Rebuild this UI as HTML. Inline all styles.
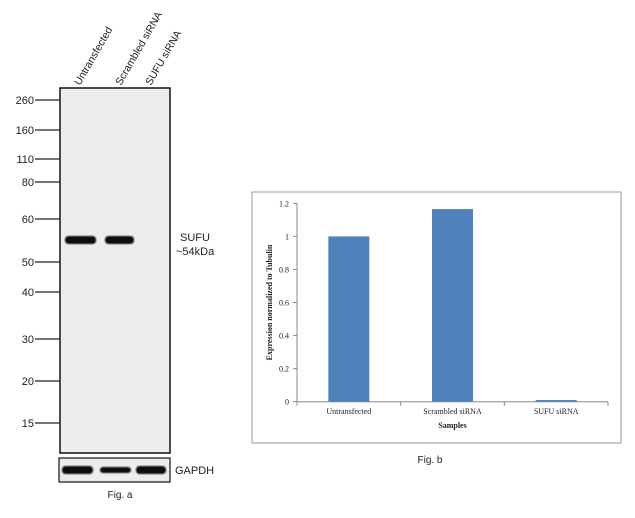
<!DOCTYPE html>
<html><head><style>
body{margin:0;background:#fff;width:635px;height:518px;overflow:hidden;position:relative;font-family:"Liberation Sans",sans-serif}
</style></head><body>
<svg width="635" height="518" style="position:absolute;left:0;top:0">
<defs><filter id="bl"><feGaussianBlur stdDeviation="0.8"/></filter></defs>
<g>
 <rect x="60" y="88" width="110" height="365" fill="#ededed" stroke="#111" stroke-width="1.5"/>
 <g font-size="11" fill="#222" text-anchor="end">
  <g id="mk"></g>
 </g>
 <g font-size="10.5" fill="#222">
  <text transform="translate(80,86) rotate(-60)">Untransfected</text>
  <text transform="translate(121,86) rotate(-60)">Scrambled siRNA</text>
  <text transform="translate(151,86) rotate(-60)">SUFU siRNA</text>
 </g>
 <g filter="url(#bl)" fill="#111">
  <rect x="65" y="236" width="31" height="8" rx="3.5"/>
  <rect x="105" y="236" width="29" height="8" rx="3.5"/>
 </g>
 <text x="180" y="241" font-size="11" fill="#222">SUFU</text>
 <text x="176" y="255" font-size="11" fill="#222">~54kDa</text>
 <rect x="59" y="458" width="111" height="24" fill="#ededed" stroke="#111" stroke-width="1.2"/>
 <g filter="url(#bl)" fill="#111">
  <rect x="62" y="466" width="31" height="8" rx="3.5"/>
  <rect x="100" y="467" width="31" height="6" rx="3"/>
  <rect x="136" y="466" width="30" height="8" rx="3.5"/>
 </g>
 <text x="175" y="474" font-size="11" fill="#222">GAPDH</text>
 <text x="120" y="498" font-size="10" fill="#222" text-anchor="middle">Fig. a</text>
</g>
<g>
 <rect x="252" y="192" width="369" height="251" fill="#fff" stroke="#999" stroke-width="1"/>
 <g id="chart"></g>
 <text x="430" y="463" font-size="10" fill="#222" text-anchor="middle">Fig. b</text>
</g>
</svg>
<script>
const markerLabels=["260","160","110","80","60","50","40","30","20","15"];
const markerY=[100,130,159,182,219,262,292,339,381,423];
const mk=document.getElementById('mk');
const NS="http://www.w3.org/2000/svg";
markerLabels.forEach((l,i)=>{
 const t=document.createElementNS(NS,'text');t.setAttribute('x',34);t.setAttribute('y',markerY[i]+4);t.textContent=l;
 
 
 mk.appendChild(t);
 const ln=document.createElementNS(NS,'line');ln.setAttribute('x1',35);ln.setAttribute('x2',60);ln.setAttribute('y1',markerY[i]);ln.setAttribute('y2',markerY[i]);ln.setAttribute('stroke','#222');ln.setAttribute('stroke-width','1.3');
 
 
 mk.appendChild(ln);
});

const categories=["Untransfected","Scrambled siRNA","SUFU siRNA"];
const values=[1.0,1.165,0.01];
const yTicks=[0,0.2,0.4,0.6,0.8,1,1.2];
const g=document.getElementById('chart');
const X0=297,X1=608,Y0=401.7,Y1=203.3,YMAX=1.2;
const y=v=>Y0-(v/YMAX)*(Y0-Y1);
const bw=(X1-X0)/categories.length;
const serif='"Liberation Serif",serif';
function el(tag,attrs,txt){const e=document.createElementNS(NS,tag);for(const k in attrs)e.setAttribute(k,attrs[k]);if(txt!==undefined)e.textContent=txt;g.appendChild(e);return e;}
let a=el('line',{x1:X0,x2:X0,y1:Y1,y2:Y0,stroke:'#888'});


a=el('line',{x1:X0,x2:X1,y1:Y0,y2:Y0,stroke:'#888'});


yTicks.forEach(v=>{
 el('line',{x1:X0-4,x2:X0,y1:y(v),y2:y(v),stroke:'#888'});
 const t=el('text',{x:X0-8,y:y(v)+3,'font-size':8,'font-family':serif,'text-anchor':'end',fill:'#222'},String(v));
 
 
});
for(let i=0;i<=categories.length;i++)el('line',{x1:X0+i*bw,x2:X0+i*bw,y1:Y0,y2:Y0+4,stroke:'#888'});
categories.forEach((c,i)=>{
 const cx=X0+bw*(i+0.5);
 const r=el('rect',{x:cx-20.5,y:y(values[i]),width:41,height:Y0-y(values[i]),fill:'#4f81bd'});
 
 
 const t=el('text',{x:cx,y:414,'font-size':8,'font-family':serif,'text-anchor':'middle',fill:'#222'},c);
 
 
});
let t=el('text',{x:(X0+X1)/2,y:428,'font-size':8,'font-weight':'bold','font-family':serif,'text-anchor':'middle',fill:'#222'},'Samples');


t=el('text',{transform:'translate(272,'+((Y0+Y1)/2)+') rotate(-90)','font-size':8,'font-weight':'bold','font-family':serif,'text-anchor':'middle',fill:'#222'},'Expression normalized to Tubulin');


</script>
</body></html>
